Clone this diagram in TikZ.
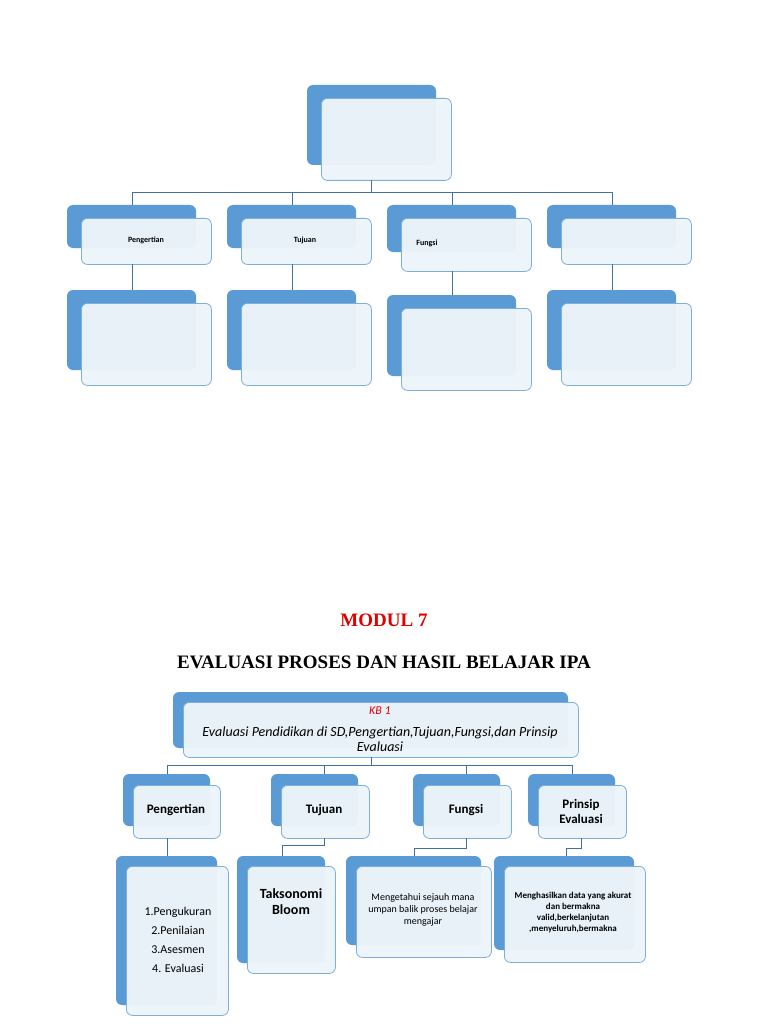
\documentclass[tikz,border=0pt]{standalone}
\usepackage{fontspec}
\setmainfont{Carlito}
\newfontfamily\tnr{Liberation Serif}
\definecolor{bk}{HTML}{5B9BD5}
\definecolor{fr}{HTML}{EDF4FA}
\definecolor{ln}{HTML}{41719C}
\definecolor{md}{HTML}{E00000}
\tikzset{x=1pt,y=-1pt,
 backbox/.style={fill=bk,rounded corners=6pt},
 frontbox/.style={fill=fr,fill opacity=0.97,draw=bk!80,line width=0.8pt,rounded corners=6pt,text opacity=1},
 conn/.style={draw=ln,line width=0.6pt}}
\newcommand{\mybox}[9]{%
 \fill[backbox] (#2,#3) rectangle (#4,#5);
 \node[frontbox,inner sep=0pt,minimum width={(#8-#6)*1pt},minimum height={(#9-#7)*1pt},anchor=north west] (#1) at (#6,#7) {};}
\begin{document}
\begin{tikzpicture}
\useasboundingbox[fill=white] (0,0) rectangle (768,1024);
% top tree
\mybox{t0}{307}{85}{436}{165}{321}{98}{451}{180}
\mybox{a1}{67}{205}{196}{248}{81}{218}{211}{264}
\mybox{a2}{227}{205}{356}{248}{241}{218}{371}{264}
\mybox{a3}{387}{205}{516}{252}{401}{218}{531}{271}
\mybox{a4}{547}{205}{676}{248}{561}{218}{691}{264}
\mybox{b1}{67}{290}{196}{370}{81}{303}{211}{385}
\mybox{b2}{227}{290}{356}{370}{241}{303}{371}{385}
\mybox{b3}{387}{295}{516}{376}{401}{308}{531}{390}
\mybox{b4}{547}{290}{676}{370}{561}{303}{691}{385}
\node[font=\bfseries\fontsize{8}{9}\selectfont] (p1) at (146,240) {Pengertian};
\node[font=\bfseries\fontsize{8}{9}\selectfont] (p2) at (305,240) {Tujuan};
\node[font=\bfseries\fontsize{8}{9}\selectfont] (p3) at (427,243) {Fungsi};
\draw[conn] (371,180) -- (371,192);
\draw[conn] (132,192) -- (612,192);
\foreach \x in {132,292,452,612}{\draw[conn] (\x,192) -- (\x,205);}
\draw[conn] (132,264) -- (132,290);
\draw[conn] (292,264) -- (292,290);
\draw[conn] (452,271) -- (452,295);
\draw[conn] (612,264) -- (612,290);
% titles
\node[font=\tnr\bfseries\fontsize{19}{22}\selectfont,text=md] (mod) at (384,620) {MODUL 7};
\node[font=\tnr\bfseries\fontsize{19}{22}\selectfont] (ttl) at (384,662) {EVALUASI PROSES DAN HASIL BELAJAR IPA};
% bottom tree
\mybox{k}{173}{692}{568}{748}{183}{702}{578}{757}
\node[font=\itshape\fontsize{12}{14}\selectfont,text=md] (kb) at (380,711) {KB 1};
\node[font=\itshape\fontsize{14}{15}\selectfont,align=center] (kt) at (380,739) {Evaluasi Pendidikan di SD,Pengertian,Tujuan,Fungsi,dan Prinsip\\Evaluasi};
\mybox{c1}{123}{774}{210}{826}{133}{785}{220}{838}
\mybox{c2}{271}{774}{358}{826}{281}{785}{369}{838}
\mybox{c3}{413}{774}{500}{826}{423}{785}{511}{838}
\mybox{c4}{528}{774}{615}{826}{538}{785}{626}{838}
\node[font=\bfseries\fontsize{13}{15}\selectfont] at (176,810) {Pengertian};
\node[font=\bfseries\fontsize{13}{15}\selectfont] at (324,810) {Tujuan};
\node[font=\bfseries\fontsize{13}{15}\selectfont] at (466,810) {Fungsi};
\node[font=\bfseries\fontsize{13}{15}\selectfont,align=center] at (581,811) {Prinsip\\Evaluasi};
\mybox{d1}{116}{856}{217}{1005}{126}{866}{228}{1015}
\mybox{d2}{237}{856}{325}{963}{247}{866}{335}{973}
\mybox{d3}{346}{856}{481}{945}{356}{866}{491}{957}
\mybox{d4}{494}{856}{634}{950}{504}{866}{645}{962}
\node[font=\fontsize{12}{19}\selectfont,align=center] at (178,940) {1.Pengukuran\\2.Penilaian\\3.Asesmen\\4. Evaluasi};
\node[font=\bfseries\fontsize{14}{16}\selectfont,align=center] at (291,902) {Taksonomi\\Bloom};
\node[font=\fontsize{10}{12}\selectfont,align=center] at (423,910) {Mengetahui sejauh mana\\umpan balik proses belajar\\mengajar};
\node[font=\bfseries\fontsize{9}{11}\selectfont,align=center] at (573,913) {Menghasilkan data yang akurat\\dan bermakna\\valid,berkelanjutan\\,menyeluruh,bermakna};
\draw[conn] (371,757) -- (371,765);
\draw[conn] (167,765) -- (572,765);
\foreach \x in {167,324,466,572}{\draw[conn] (\x,765) -- (\x,774);}
\draw[conn] (167,838) -- (167,856);
\draw[conn] (324,838) -- (324,845) -- (282,845) -- (282,856);
\draw[conn] (466,838) -- (466,848) -- (414,848) -- (414,856);
\draw[conn] (581,838) -- (581,848) -- (566,848) -- (566,856);
\end{tikzpicture}
\end{document}
